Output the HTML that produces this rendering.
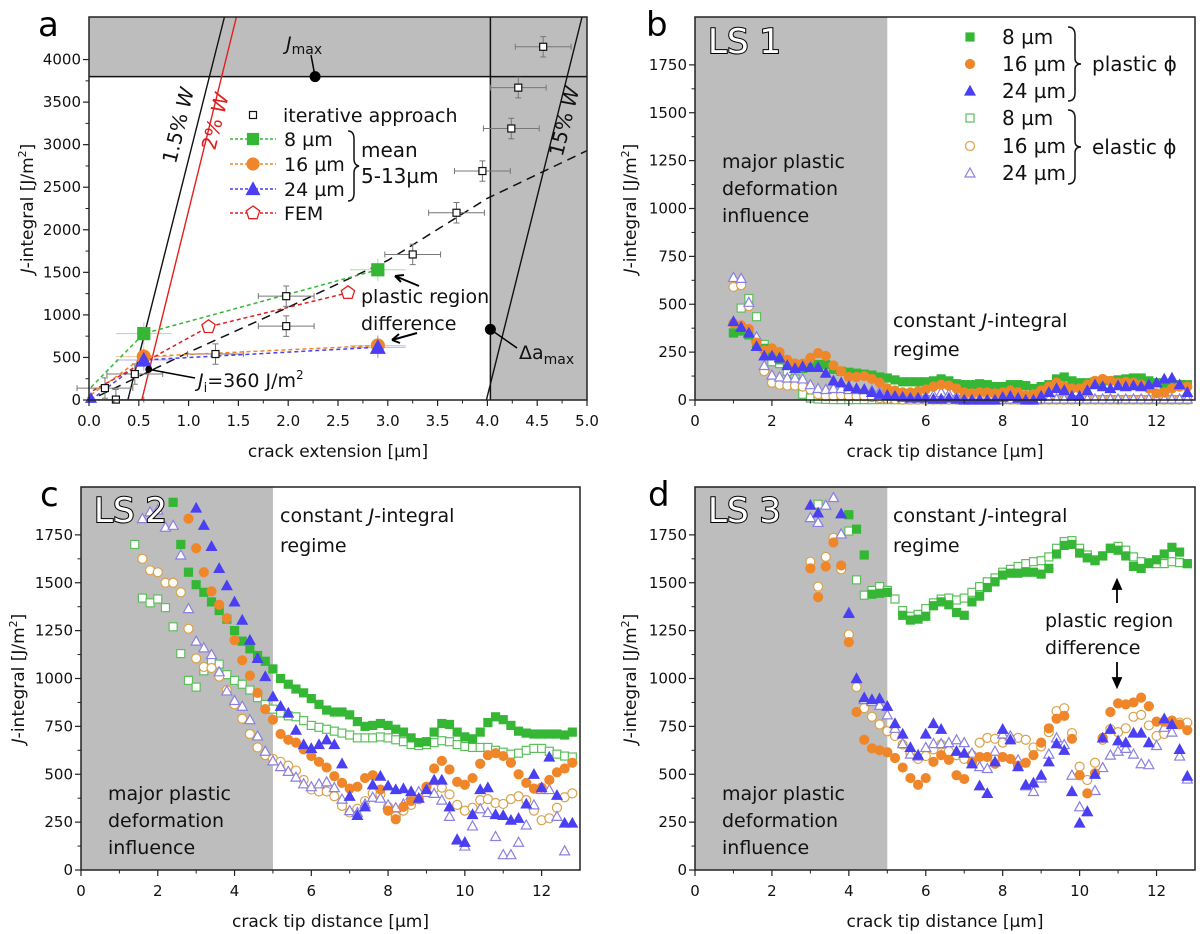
<!DOCTYPE html>
<html><head><meta charset="utf-8"><style>
html,body{margin:0;padding:0;background:#fff}
svg{display:block;font-family:"DejaVu Sans","Liberation Sans",sans-serif}
.tk{font-size:15px;fill:#111}
.tt{font-size:17px;fill:#111}
.an{font-size:19px;fill:#111}
.halo{paint-order:stroke;stroke:#fff;stroke-width:3px}
.ls{font-size:34px;fill:#fff;stroke:#000;stroke-width:2px;paint-order:stroke}
.pl{font-size:34px;fill:#000}
</style></head><body>
<svg id="fig" width="1200" height="934" viewBox="0 0 1200 934" xmlns="http://www.w3.org/2000/svg"></svg>
<script>
// ---------- Panel a data ----------
const aIterX = [0.16,0.27,0.46,1.27,1.98,1.98,3.25,3.69,3.95,4.24,4.31,4.56];
const aIterY = [140,5,305,540,868,1220,1710,2200,2690,3190,3670,4150];
const aMeanX = [0.55,2.9];
const a8um = [780,1530];
const a16um = [510,640];
const a24um = [470,620];
const aFemX = [1.2,2.6];
const aFemY = [860,1260];
const aDashX = [0.1,1,2,3,4,5];
const aDashY = [50,560,1090,1640,2370,2930];
const aXTicks = ["0.0","0.5","1.0","1.5","2.0","2.5","3.0","3.5","4.0","4.5","5.0"];
const aYTicks = [0,500,1000,1500,2000,2500,3000,3500,4000];
const aJmax = 3800;
const aDamax = 4.03;
// ---------- Panel b (LS1) data, x start + step 0.2 ----------
const bX0 = 1.0;
const bPl8 = [350,360,340,290,270,240,210,180,165,165,170,185,185,160,150,145,140,135,130,120,115,105,95,95,95,95,100,110,100,85,80,80,85,80,70,70,80,80,75,60,70,80,110,120,100,90,90,95,100,100,105,110,115,115,100,90,80,75,80,80];
const bPl16 = [400,390,370,300,260,270,250,210,190,190,220,245,230,180,150,120,120,125,110,90,60,50,40,40,45,55,70,80,75,60,40,35,40,40,35,40,50,40,25,30,50,70,90,70,60,60,80,100,110,100,90,95,90,80,60,35,40,60,70,70];
const bPl24 = [410,380,350,280,230,230,220,180,165,175,170,170,140,100,90,70,60,55,40,30,25,20,15,10,10,10,5,5,10,5,0,0,0,0,0,15,20,10,0,0,20,40,60,50,20,20,50,80,70,60,75,70,75,70,80,90,110,115,80,40];
const bEl8 = [350,480,530,435,290,200,190,150,110,30,10,5,3,2,2,2,2,2,2,2,2,2,2,2,2,2,2,2,2,2,2,2,2,2,2,2,2,2,2,2,2,2,2,2,2,2,2,2,2,2,2,2,2,2,2,2,2,2,2,2];
const bEl16 = [590,600,490,310,150,90,80,75,75,70,55,30,20,20,25,20,20,20,15,10,5,3,2,2,2,2,2,2,2,2,2,2,2,2,2,2,2,2,2,2,2,2,2,2,2,2,2,2,2,2,2,2,2,2,2,2,2,2,2,2];
const bEl24 = [640,635,510,330,180,130,120,115,115,110,80,60,55,60,60,55,55,55,50,45,40,30,25,20,20,20,25,40,30,20,10,5,5,5,5,5,5,5,5,5,5,5,5,5,5,5,5,5,5,5,5,5,5,5,5,5,5,5,5,5];
// ---------- Panel c (LS2) ----------
const cPl8X0 = 2.4;
const cPl8 = [1920,1700,1555,1490,1450,1400,1355,1310,1250,1195,1155,1120,1090,1050,1000,970,945,925,895,865,835,825,825,810,775,750,755,765,755,735,720,690,665,670,720,765,760,720,695,685,720,770,800,785,755,725,715,710,710,710,710,705,720];
const cPl16X0 = 2.8;
const cPl16 = [1835,1680,1555,1455,1385,1315,1200,1095,1015,925,840,785,710,680,665,630,595,565,535,490,455,425,435,480,495,420,310,265,330,360,370,435,530,570,525,460,445,480,555,600,610,595,560,500,455,425,430,470,510,530,560];
const cPl24X0 = 3.0;
const cPl24 = [1890,1800,1690,1575,1485,1400,1305,1200,1105,1010,905,855,820,730,655,635,655,680,655,555,385,285,330,445,490,440,420,425,410,375,420,470,470,330,160,145,290,420,430,290,285,260,270,345,500,430,590,390,245,245];
const cEl8X0 = 1.4;
const cEl8 = [1700,1420,1395,1415,1370,1270,1130,990,955,1040,1095,1075,1020,990,970,940,900,865,840,820,805,800,780,755,745,735,725,715,705,690,690,690,695,690,680,670,655,650,655,665,675,670,655,645,640,640,640,625,615,605,610,625,635,635,620,605,595,590];
const cEl16X0 = 1.6;
const cEl16 = [1625,1565,1555,1500,1500,1450,1260,1105,1060,1055,1010,940,865,790,710,640,600,580,565,545,520,470,420,410,410,385,335,300,320,360,400,395,330,280,310,340,370,415,425,430,395,340,310,325,365,370,350,345,370,385,365,310,260,270,325,380,400];
const cEl24X0 = 1.6;
const cEl24 = [1835,1870,1880,1790,1800,1645,1365,1195,1160,1125,1035,935,885,855,785,700,620,570,540,515,485,450,435,450,460,430,370,310,300,345,380,375,340,325,345,390,410,405,400,365,280,155,125,230,320,300,175,80,80,145,235,340,420,420,280,100];
// ---------- Panel d (LS3) ----------
const dPl8X0 = 4.0;
const dPl8 = [1855,1780,1645,1440,1445,1450,null,1330,1305,1310,1325,1380,1400,1385,1345,1330,1400,1430,1475,1505,1540,1550,1550,1555,1555,1545,1575,1650,1695,1700,1655,1630,1615,1640,1680,1670,1640,1585,1575,1600,1620,1650,1685,1660,1600];
const dPl16X0 = 3.0;
const dPl16 = [1575,1425,1585,1710,1590,1190,825,680,635,625,615,585,535,480,445,480,565,600,575,495,475,560,590,590,555,590,580,545,560,600,665,740,790,805,685,495,400,505,690,825,870,865,875,900,855,775,775,780,760,730];
const dPl24X0 = 3.0;
const dPl24 = [1905,1865,null,null,1860,1340,1000,900,890,895,855,765,710,640,600,710,765,735,null,620,610,555,440,400,565,735,680,540,445,455,495,565,660,625,410,245,305,500,690,735,675,665,715,715,665,null,790,760,630,490];
const dEl8X0 = 3.2;
const dEl8 = [1910,null,null,null,1770,1515,1435,1460,1480,1460,1415,1355,1325,1335,1365,1395,1415,1420,1410,1420,1450,1480,1505,1525,1555,1570,1585,1600,1610,1615,1635,1680,1715,1720,1680,1645,1620,1640,1680,1690,1670,1635,1610,1605,1600,1600,1610,1605,1600];
const dEl16X0 = 3.0;
const dEl16 = [1610,1480,1635,1735,1570,1230,955,845,800,760,725,700,655,610,580,595,630,655,620,600,580,600,665,690,685,665,685,690,680,640,645,720,830,845,715,540,470,560,680,735,720,740,800,810,755,700,710,760,770,770];
const dEl24X0 = 3.0;
const dEl24 = [1840,1815,1905,1945,1755,1345,1000,890,880,860,810,740,660,605,595,640,660,660,665,680,665,610,540,530,620,710,700,575,440,410,480,605,690,655,495,330,305,415,535,600,620,635,605,555,550,650,745,720,595,475];
const distTicks = [0,2,4,6,8,10,12];
const jTicks = [0,250,500,750,1000,1250,1500,1750];

const COL = {g:'#35b735', o:'#f0862a', b:'#4a3ff2', gO:'#5cbf5c', oO:'#d9a24a', bO:'#8a80e0', gray:'#bdbdbd'};
const svg = document.getElementById('fig');
const NS = 'http://www.w3.org/2000/svg';
function mk(tag, attrs, parent, text) {
  const e = document.createElementNS(NS, tag);
  for (const k in attrs) e.setAttribute(k, attrs[k]);
  if (text !== undefined) e.textContent = text;
  (parent || svg).appendChild(e);
  return e;
}
function scale(d0, d1, r0, r1) { return v => r0 + (v - d0) * (r1 - r0) / (d1 - d0); }

function marker(g, type, x, y, fill, stroke, s) {
  let e;
  if (type === 'sq') e = mk('rect', {x: x - s/2, y: y - s/2, width: s, height: s, fill: fill, stroke: stroke, 'stroke-width': 1.2}, g);
  else if (type === 'ci') e = mk('circle', {cx: x, cy: y, r: s/2 + 0.5, fill: fill, stroke: stroke, 'stroke-width': 1.2}, g);
  else e = mk('polygon', {points: `${x},${y - s/2 - 1} ${x + s/2 + 1},${y + s/2} ${x - s/2 - 1},${y + s/2}`, fill: fill, stroke: stroke, 'stroke-width': 1.2}, g);
  return e;
}

function axes(g, X, Y, x0, x1, y0, y1, xt, xtl, yt, fmt) {
  // ticks
  xt.forEach((v, i) => {
    const px = X(v);
    mk('line', {x1: px, x2: px, y1: y0, y2: y0 + 6, stroke: '#222', 'stroke-width': 1.2}, g);
    const t = mk('text', {x: px, y: y0 + 26, 'text-anchor': 'middle', class: 'tk'}, g, xtl[i]);
    
    
  });
  for (let i = 0; i < xt.length - 1; i++) {
    const px = X((xt[i] + xt[i + 1]) / 2);
    mk('line', {x1: px, x2: px, y1: y0, y2: y0 + 3.5, stroke: '#222', 'stroke-width': 1}, g);
  }
  yt.forEach((v, i) => {
    const py = Y(v);
    mk('line', {x1: x0 - 6, x2: x0, y1: py, y2: py, stroke: '#222', 'stroke-width': 1.2}, g);
    const t = mk('text', {x: x0 - 8, y: py + 5, 'text-anchor': 'end', class: 'tk'}, g, String(v));
    
    
    if (i < yt.length - 1) {
      const pm = Y((v + yt[i + 1]) / 2);
      mk('line', {x1: x0 - 3.5, x2: x0, y1: pm, y2: pm, stroke: '#222', 'stroke-width': 1}, g);
    }
  });
  mk('rect', {x: x0, y: y1, width: x1 - x0, height: y0 - y1, fill: 'none', stroke: '#222', 'stroke-width': 1.5}, g);
}

function yTitle(g, x, y) {
  const t = mk('text', {x: x, y: y, transform: `rotate(-90 ${x} ${y})`, 'text-anchor': 'middle', class: 'tt'}, g);
  
  
  mk('tspan', {'font-style': 'italic'}, t, 'J');
  mk('tspan', {}, t, '-integral [J/m');
  mk('tspan', {'font-size': '11', dy: '-7'}, t, '2');
  mk('tspan', {dy: '7'}, t, ']');
}

function scatter(g, X, Y, x0v, vals, type, fill, stroke, s, name) {
  const sg = mk('g', {}, g);
  
  
  vals.forEach((v, i) => {
    if (v === null) return;
    const xv = x0v + i * 0.2;
    if (xv > 13.001) return;
    const m = marker(sg, type, X(xv), Y(Math.max(v, 0)), fill, stroke, s);
    
    
  });
}

function distPanel(L, series, gid) {
  const g = mk('g', {});
  
  
  const X = scale(0, 13, L.x0, L.x1), Y = scale(0, 2000, L.y0, L.y1);
  const sh = mk('rect', {x: L.x0, y: L.y1, width: X(5) - L.x0, height: L.y0 - L.y1, fill: COL.gray}, g);
  
  
  series.forEach(s => scatter(g, X, Y, s[0], s[1], s[2], s[3], s[4], 8, s[5]));
  axes(g, X, Y, L.x0, L.x1, L.y0, L.y1, distTicks, distTicks.map(String), jTicks);
  const xt = mk('text', {x: (L.x0 + L.x1) / 2, y: L.y0 + 57, 'text-anchor': 'middle', class: 'tt'}, g, 'crack tip distance [µm]');
  
  
  yTitle(g, L.yt, (L.y0 + L.y1) / 2);
  return {g, X, Y};
}

// ===== Panel a =====
(function () {
  const x0 = 89, x1 = 587, y0 = 400, y1 = 17;
  const X = scale(0, 5, x0, x1), Y = scale(0, 4500, y0, y1);
  const g = mk('g', {});
  
  
  const top = mk('rect', {x: x0, y: y1, width: x1 - x0, height: Y(aJmax) - y1, fill: COL.gray}, g);
  
  
  const rt = mk('rect', {x: X(aDamax), y: y1, width: x1 - X(aDamax), height: y0 - y1, fill: COL.gray}, g);
  
  
  mk('line', {x1: x0, x2: x1, y1: Y(aJmax), y2: Y(aJmax), stroke: '#111', 'stroke-width': 1.5}, g);
  mk('line', {x1: X(aDamax), x2: X(aDamax), y1: y1, y2: y0, stroke: '#111', 'stroke-width': 1.5}, g);
  // W lines
  const wl = [[0.39, 1.36, '#111', 'line-1-5-w'], [0.53, 1.48, '#e02020', 'line-2-w'], [3.99, 4.95, '#111', 'line-15-w']];
  wl.forEach(w => {
    const l = mk('line', {x1: X(w[0]), y1: y0, x2: X(w[1]), y2: y1, stroke: w[2], 'stroke-width': 1.4}, g);
    
    
  });
  // dashed fit
  const dl = mk('polyline', {points: aDashX.map((x, i) => X(x) + ',' + Y(aDashY[i])).join(' '), fill: 'none', stroke: '#111', 'stroke-width': 1.5, 'stroke-dasharray': '9,6'}, g);
  
  
  // error bars for iter
  aIterX.forEach((x, i) => {
    const px = X(x), py = Y(aIterY[i]);
    const e = mk('path', {d: `M${X(x - 0.28)},${py}H${X(x + 0.28)}M${X(x - 0.28)},${py - 3}v6M${X(x + 0.28)},${py - 3}v6M${px},${Y(aIterY[i] + 120)}V${Y(Math.max(aIterY[i] - 120, 0))}M${px - 3},${Y(aIterY[i] + 120)}h6M${px - 3},${Y(Math.max(aIterY[i] - 120, 0))}h6`, stroke: '#777', 'stroke-width': 1, fill: 'none'}, g);
    
    
  });
  // mean error bars
  [[a8um, COL.g], [a16um, COL.o], [a24um, COL.b]].forEach(s => {
    aMeanX.forEach((x, i) => {
      mk('path', {d: `M${X(x - 0.28)},${Y(s[0][i])}H${X(x + 0.28)}M${X(x)},${Y(s[0][i] + 130)}V${Y(s[0][i] - 130)}`, stroke: s[1], 'stroke-opacity': 0.45, 'stroke-width': 1, fill: 'none'}, g);
    });
  });
  // dotted series lines
  const sers = [[a8um, COL.g, 'sq', 150, 'series-8um'], [a16um, COL.o, 'ci', 60, 'series-16um'], [a24um, COL.b, 'tr', 0, 'series-24um']];
  sers.forEach(s => {
    const pts = [X(0.02) + ',' + Y(s[3])].concat(aMeanX.map((x, i) => X(x) + ',' + Y(s[0][i])));
    mk('polyline', {points: pts.join(' '), fill: 'none', stroke: s[1], 'stroke-width': 1.5, 'stroke-dasharray': '4,3'}, g);
  });
  mk('polyline', {points: [X(0.04) + ',' + Y(110)].concat(aFemX.map((x, i) => X(x) + ',' + Y(aFemY[i]))).join(' '), fill: 'none', stroke: '#e02020', 'stroke-width': 1.5, 'stroke-dasharray': '4,3'}, g);
  sers.forEach(s => {
    const sg = mk('g', {}, g);
    
    
    aMeanX.forEach((x, i) => marker(sg, s[2], X(x), Y(s[0][i]), s[1], s[1], 12));
  });
  const fg = mk('g', {}, g);
  
  
  function pent(p, cx, cy, r, fill) {
    const pts = [];
    for (let k = 0; k < 5; k++) { const a = -Math.PI / 2 + k * 2 * Math.PI / 5; pts.push((cx + r * Math.cos(a)).toFixed(1) + ',' + (cy + r * Math.sin(a)).toFixed(1)); }
    return mk('polygon', {points: pts.join(' '), fill: fill, stroke: '#e02020', 'stroke-width': 1.3}, p);
  }
  aFemX.forEach((x, i) => pent(fg, X(x), Y(aFemY[i]), 7, '#fff'));
  const ig = mk('g', {}, g);
  
  
  aIterX.forEach((x, i) => marker(ig, 'sq', X(x), Y(aIterY[i]), '#fff', '#111', 7));
  // near-origin small markers
  marker(g, 'tr', X(0.02), Y(20), COL.b, COL.b, 8);
  // key points
  const jm = mk('circle', {cx: X(2.27), cy: Y(aJmax), r: 5.5, fill: '#000'}, g);
  
  
  mk('line', {x1: 311, y1: 55, x2: X(2.27), y2: Y(aJmax), stroke: '#000', 'stroke-width': 1.5}, g);
  const jt = mk('text', {x: 286, y: 50, class: 'an'}, g);
  
  
  mk('tspan', {'font-style': 'italic'}, jt, 'J');
  mk('tspan', {'font-size': 14, dy: 4}, jt, 'max');
  const dm = mk('circle', {cx: X(aDamax), cy: Y(830), r: 5.5, fill: '#000'}, g);
  
  
  mk('line', {x1: X(aDamax), y1: Y(830), x2: 517, y2: 348, stroke: '#000', 'stroke-width': 1.5}, g);
  const dt = mk('text', {x: 519, y: 359, class: 'an'}, g);
  
  
  mk('tspan', {}, dt, 'Δa');
  mk('tspan', {'font-size': 14, dy: 5}, dt, 'max');
  mk('circle', {cx: X(0.6), cy: Y(360), r: 3.5, fill: '#000'}, g);
  mk('line', {x1: X(0.6), y1: Y(360), x2: 195, y2: 378, stroke: '#000', 'stroke-width': 1.5}, g);
  const ji = mk('text', {x: 198, y: 387, class: 'an'}, g);
  
  
  mk('tspan', {'font-style': 'italic'}, ji, 'J');
  mk('tspan', {'font-size': 13, dy: 5}, ji, 'i');
  mk('tspan', {dy: -5}, ji, '=360 J/m');
  mk('tspan', {'font-size': 12, dy: -8}, ji, '2');
  // rotated W labels
  [[185, 127, '#111', '1.5% '], [222, 123, '#e02020', '2% '], [571, 123, '#111', '15% ']].forEach(r => {
    const t = mk('text', {x: r[0], y: r[1], transform: `rotate(-76 ${r[0]} ${r[1]})`, 'text-anchor': 'middle', 'font-size': 20, fill: r[2]}, g);
    
    
    mk('tspan', {}, t, r[3]);
    mk('tspan', {'font-style': 'italic'}, t, 'W');
  });
  // plastic region annotation
  const pr = mk('text', {x: 361, y: 303, class: 'an halo', 'font-size': 21}, g, 'plastic region');
  
  
  mk('text', {x: 361, y: 330, class: 'an halo', 'font-size': 21}, g, 'difference');
  mk('path', {d: 'M419,286 L395,276 M395,276 l9,-1 M395,276 l6,6', stroke: '#000', 'stroke-width': 2, fill: 'none'}, g);
  mk('path', {d: 'M417,333 L392,340 M392,340 l7,-6 M392,340 l8,3', stroke: '#000', 'stroke-width': 2, fill: 'none'}, g);
  // legend
  const lg = mk('g', {}, g);
  
  
  const rows = [['iterative approach', 'it', 115], ['8 µm', 'sq', 139], ['16 µm', 'ci', 164], ['24 µm', 'tr', 189], ['FEM', 'fem', 213]];
  const rc = {sq: COL.g, ci: COL.o, tr: COL.b, fem: '#e02020'};
  rows.forEach(r => {
    const e = mk('g', {}, lg);
    
    
    if (r[1] === 'it') marker(e, 'sq', 253, r[2], '#fff', '#111', 7);
    else {
      mk('line', {x1: 230, x2: 276, y1: r[2], y2: r[2], stroke: rc[r[1]], 'stroke-width': 1.4, 'stroke-dasharray': '3,2'}, e);
      if (r[1] === 'fem') pent(e, 253, r[2], 7, '#fff'); else marker(e, r[1], 253, r[2], rc[r[1]], rc[r[1]], 11);
    }
    mk('text', {x: r[1] === 'it' ? 283 : 284, y: r[2] + 7, 'font-size': 19, fill: '#111'}, e, r[0]);
  });
  mk('path', {d: 'M348,131 q6,0 6,8 v20 q0,6 5,7 q-5,1 -5,7 v20 q0,8 -6,8', stroke: '#111', 'stroke-width': 1.5, fill: 'none'}, lg);
  mk('text', {x: 361, y: 157, 'font-size': 20, fill: '#111'}, lg, 'mean');
  mk('text', {x: 361, y: 183, 'font-size': 20, fill: '#111'}, lg, '5-13µm');
  axes(g, X, Y, x0, x1, y0, y1, [0, 0.5, 1, 1.5, 2, 2.5, 3, 3.5, 4, 4.5, 5], aXTicks, aYTicks);
  const xt = mk('text', {x: (x0 + x1) / 2, y: 457, 'text-anchor': 'middle', class: 'tt'}, g, 'crack extension [µm]');
  
  
  yTitle(g, 33, (y0 + y1) / 2);
})();

// ===== Panel b =====
(function () {
  const P = distPanel({x0: 695, x1: 1195, y0: 400, y1: 17, yt: 636}, [
    [bX0, bEl8, 'sq', '#fff', COL.gO, 'elastic-8um'],
    [bX0, bEl16, 'ci', '#fff', COL.oO, 'elastic-16um'],
    [bX0, bEl24, 'tr', '#fff', COL.bO, 'elastic-24um'],
    [bX0, bPl8, 'sq', COL.g, COL.g, 'plastic-8um'],
    [bX0, bPl16, 'ci', COL.o, COL.o, 'plastic-16um'],
    [bX0, bPl24, 'tr', COL.b, COL.b, 'plastic-24um']], 'panel-b');
  const g = P.g;
  mk('text', {x: 708, y: 53, class: 'ls'}, g, 'LS 1');
  ['major plastic', 'deformation', 'influence'].forEach((t, i) => mk('text', {x: 722, y: 168 + i * 27, class: 'an', 'font-size': 21}, g, t));
  const c1 = mk('text', {x: 893, y: 327, class: 'an', 'font-size': 21}, g);
  
  
  mk('tspan', {}, c1, 'constant ');
  mk('tspan', {'font-style': 'italic'}, c1, 'J');
  mk('tspan', {}, c1, '-integral');
  mk('text', {x: 893, y: 356, class: 'an', 'font-size': 21}, g, 'regime');
  const lg = mk('g', {}, g);
  
  
  const lr = [['sq', COL.g, COL.g, '8 µm', 37], ['ci', COL.o, COL.o, '16 µm', 64], ['tr', COL.b, COL.b, '24 µm', 91], ['sq', '#fff', COL.gO, '8 µm', 118], ['ci', '#fff', COL.oO, '16 µm', 146], ['tr', '#fff', COL.bO, '24 µm', 173]];
  lr.forEach(r => {
    const e = mk('g', {}, lg);
    
    
    marker(e, r[0], 970, r[4], r[1], r[2], 8);
    mk('text', {x: 1002, y: r[4] + 7, 'font-size': 20, fill: '#111'}, e, r[3]);
  });
  [[27, 101], [110, 184]].forEach((b, i) => {
    const m = (b[0] + b[1]) / 2;
    mk('path', {d: `M1068,${b[0]} q7,0 7,8 V${m - 6} q0,6 6,6 q-6,0 -6,6 V${b[1] - 8} q0,8 -7,8`, stroke: '#111', 'stroke-width': 1.5, fill: 'none'}, lg);
    mk('text', {x: 1092, y: m + 7, 'font-size': 20, fill: '#111'}, lg, i === 0 ? 'plastic ϕ' : 'elastic ϕ');
  });
})();

// ===== Panel c =====
(function () {
  const P = distPanel({x0: 81, x1: 580, y0: 870, y1: 487, yt: 24}, [
    [cEl8X0, cEl8, 'sq', '#fff', COL.gO, 'elastic-8um'],
    [cEl16X0, cEl16, 'ci', '#fff', COL.oO, 'elastic-16um'],
    [cEl24X0, cEl24, 'tr', '#fff', COL.bO, 'elastic-24um'],
    [cPl8X0, cPl8, 'sq', COL.g, COL.g, 'plastic-8um'],
    [cPl16X0, cPl16, 'ci', COL.o, COL.o, 'plastic-16um'],
    [cPl24X0, cPl24, 'tr', COL.b, COL.b, 'plastic-24um']], 'panel-c');
  const g = P.g;
  mk('text', {x: 94, y: 522, class: 'ls'}, g, 'LS 2');
  ['major plastic', 'deformation', 'influence'].forEach((t, i) => mk('text', {x: 108, y: 800 + i * 27, class: 'an', 'font-size': 21}, g, t));
  const c1 = mk('text', {x: 280, y: 522, class: 'an', 'font-size': 21}, g);
  mk('tspan', {}, c1, 'constant ');
  mk('tspan', {'font-style': 'italic'}, c1, 'J');
  mk('tspan', {}, c1, '-integral');
  mk('text', {x: 280, y: 552, class: 'an', 'font-size': 21}, g, 'regime');
})();

// ===== Panel d =====
(function () {
  const P = distPanel({x0: 695, x1: 1195, y0: 870, y1: 487, yt: 636}, [
    [dEl8X0, dEl8, 'sq', '#fff', COL.gO, 'elastic-8um'],
    [dEl16X0, dEl16, 'ci', '#fff', COL.oO, 'elastic-16um'],
    [dEl24X0, dEl24, 'tr', '#fff', COL.bO, 'elastic-24um'],
    [dPl8X0, dPl8, 'sq', COL.g, COL.g, 'plastic-8um'],
    [dPl16X0, dPl16, 'ci', COL.o, COL.o, 'plastic-16um'],
    [dPl24X0, dPl24, 'tr', COL.b, COL.b, 'plastic-24um']], 'panel-d');
  const g = P.g;
  mk('text', {x: 708, y: 522, class: 'ls'}, g, 'LS 3');
  ['major plastic', 'deformation', 'influence'].forEach((t, i) => mk('text', {x: 722, y: 800 + i * 27, class: 'an', 'font-size': 21}, g, t));
  const c1 = mk('text', {x: 893, y: 522, class: 'an', 'font-size': 21}, g);
  mk('tspan', {}, c1, 'constant ');
  mk('tspan', {'font-style': 'italic'}, c1, 'J');
  mk('tspan', {}, c1, '-integral');
  mk('text', {x: 893, y: 552, class: 'an', 'font-size': 21}, g, 'regime');
  mk('text', {x: 1045, y: 627, class: 'an'}, g, 'plastic region');
  mk('text', {x: 1045, y: 654, class: 'an'}, g, 'difference');
  mk('path', {d: 'M1117,603 V581 M1117,580 l-4,9 h8 z M1117,662 V685 M1117,687 l-4,-9 h8 z', stroke: '#000', 'stroke-width': 1.8, fill: '#000'}, g);
})();

// panel letters
[['a', 38, 36], ['b', 646, 36], ['c', 40, 506], ['d', 648, 506]].forEach(p => {
  const t = mk('text', {x: p[1], y: p[2], class: 'pl'}, svg, p[0]);
  
  
});
</script>
</body></html>
